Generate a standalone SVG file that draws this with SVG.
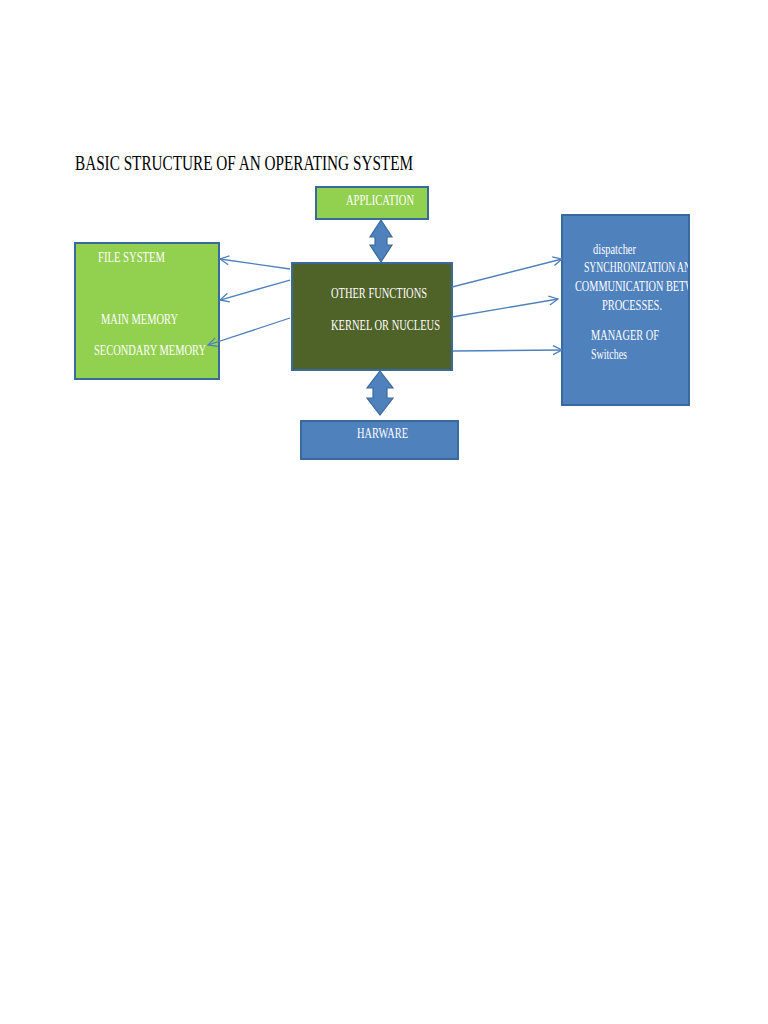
<svg xmlns="http://www.w3.org/2000/svg" width="768" height="1024" viewBox="0 0 768 1024">
<style>
.t{font-family:"Liberation Serif","Times New Roman",serif;font-size:14px;fill:#ffffff;}
.title{font-family:"Liberation Serif","Times New Roman",serif;font-size:20px;fill:#000000;}
.box{stroke:#3a6a9c;stroke-width:2;}
.con{stroke:#4f81bd;stroke-width:1.3;fill:none;marker-end:url(#ah);}
.dbl{fill:#4f81bd;stroke:#3a6a9c;stroke-width:1.2;}
</style>
<defs>
<marker id="ah" markerUnits="userSpaceOnUse" markerWidth="12" markerHeight="12" viewBox="0 0 12 12" refX="10" refY="6" orient="auto">
<path d="M1,1.5 L10,6 L1,10.5" fill="none" stroke="#4f81bd" stroke-width="1.3"/>
</marker>
<clipPath id="rclip"><rect x="563" y="215" width="125" height="190"/></clipPath>
</defs>
<rect width="768" height="1024" fill="#ffffff"/>
<text class="title" x="75" y="170" textLength="338" lengthAdjust="spacingAndGlyphs">BASIC STRUCTURE OF AN OPERATING SYSTEM</text>

<g id="application">
<rect class="box" x="316" y="187" width="112" height="32" fill="#92d050"/>
<text class="t" x="346" y="205" textLength="68" lengthAdjust="spacingAndGlyphs">APPLICATION</text>
</g>

<g id="filesystem">
<rect class="box" x="75" y="243" width="144" height="136" fill="#92d050"/>
<text class="t" x="98" y="262" textLength="67" lengthAdjust="spacingAndGlyphs">FILE SYSTEM</text>
<text class="t" x="101" y="324" textLength="77" lengthAdjust="spacingAndGlyphs">MAIN MEMORY</text>
<text class="t" x="94" y="355" textLength="112" lengthAdjust="spacingAndGlyphs">SECONDARY MEMORY</text>
</g>

<g id="kernel">
<rect class="box" x="292" y="263" width="160" height="107" fill="#4f6228"/>
<text class="t" x="331" y="298" textLength="96" lengthAdjust="spacingAndGlyphs">OTHER FUNCTIONS</text>
<text class="t" x="331" y="330" textLength="109" lengthAdjust="spacingAndGlyphs">KERNEL OR NUCLEUS</text>
</g>

<g id="hardware">
<rect class="box" x="301" y="421" width="157" height="38" fill="#4f81bd"/>
<text class="t" x="357" y="438" textLength="51" lengthAdjust="spacingAndGlyphs">HARWARE</text>
</g>

<g id="processes">
<rect class="box" x="562" y="215" width="127" height="190" fill="#4f81bd"/>
<g clip-path="url(#rclip)">
<text class="t" x="593" y="254" textLength="43" lengthAdjust="spacingAndGlyphs">dispatcher</text>
<text class="t" x="584" y="272" textLength="107" lengthAdjust="spacingAndGlyphs">SYNCHRONIZATION AN</text>
<text class="t" x="575" y="291" textLength="120" lengthAdjust="spacingAndGlyphs">COMMUNICATION BETW</text>
<text class="t" x="602" y="310" textLength="60" lengthAdjust="spacingAndGlyphs">PROCESSES.</text>
<text class="t" x="591" y="340" textLength="68" lengthAdjust="spacingAndGlyphs">MANAGER OF</text>
<text class="t" x="591" y="359" textLength="36" lengthAdjust="spacingAndGlyphs">Switches</text>
</g>
</g>

<g id="connectors">
<line class="con" x1="290" y1="269" x2="220" y2="259"/>
<line class="con" x1="290" y1="280" x2="220" y2="300"/>
<line class="con" x1="290" y1="318" x2="208" y2="345"/>
<line class="con" x1="452" y1="287" x2="562" y2="259"/>
<line class="con" x1="452" y1="317" x2="558" y2="299"/>
<line class="con" x1="453" y1="351" x2="562" y2="350"/>
<path id="dbl-top" class="dbl" d="M381,220 L392,237 L387,237 L387,245 L392,245 L381,262 L370,245 L375,245 L375,237 L370,237 Z"/>
<path id="dbl-bottom" class="dbl" d="M380,371 L393,388 L387,388 L387,398 L393,398 L380,415 L367,398 L373,398 L373,388 L367,388 Z"/>
</g>
</svg>
